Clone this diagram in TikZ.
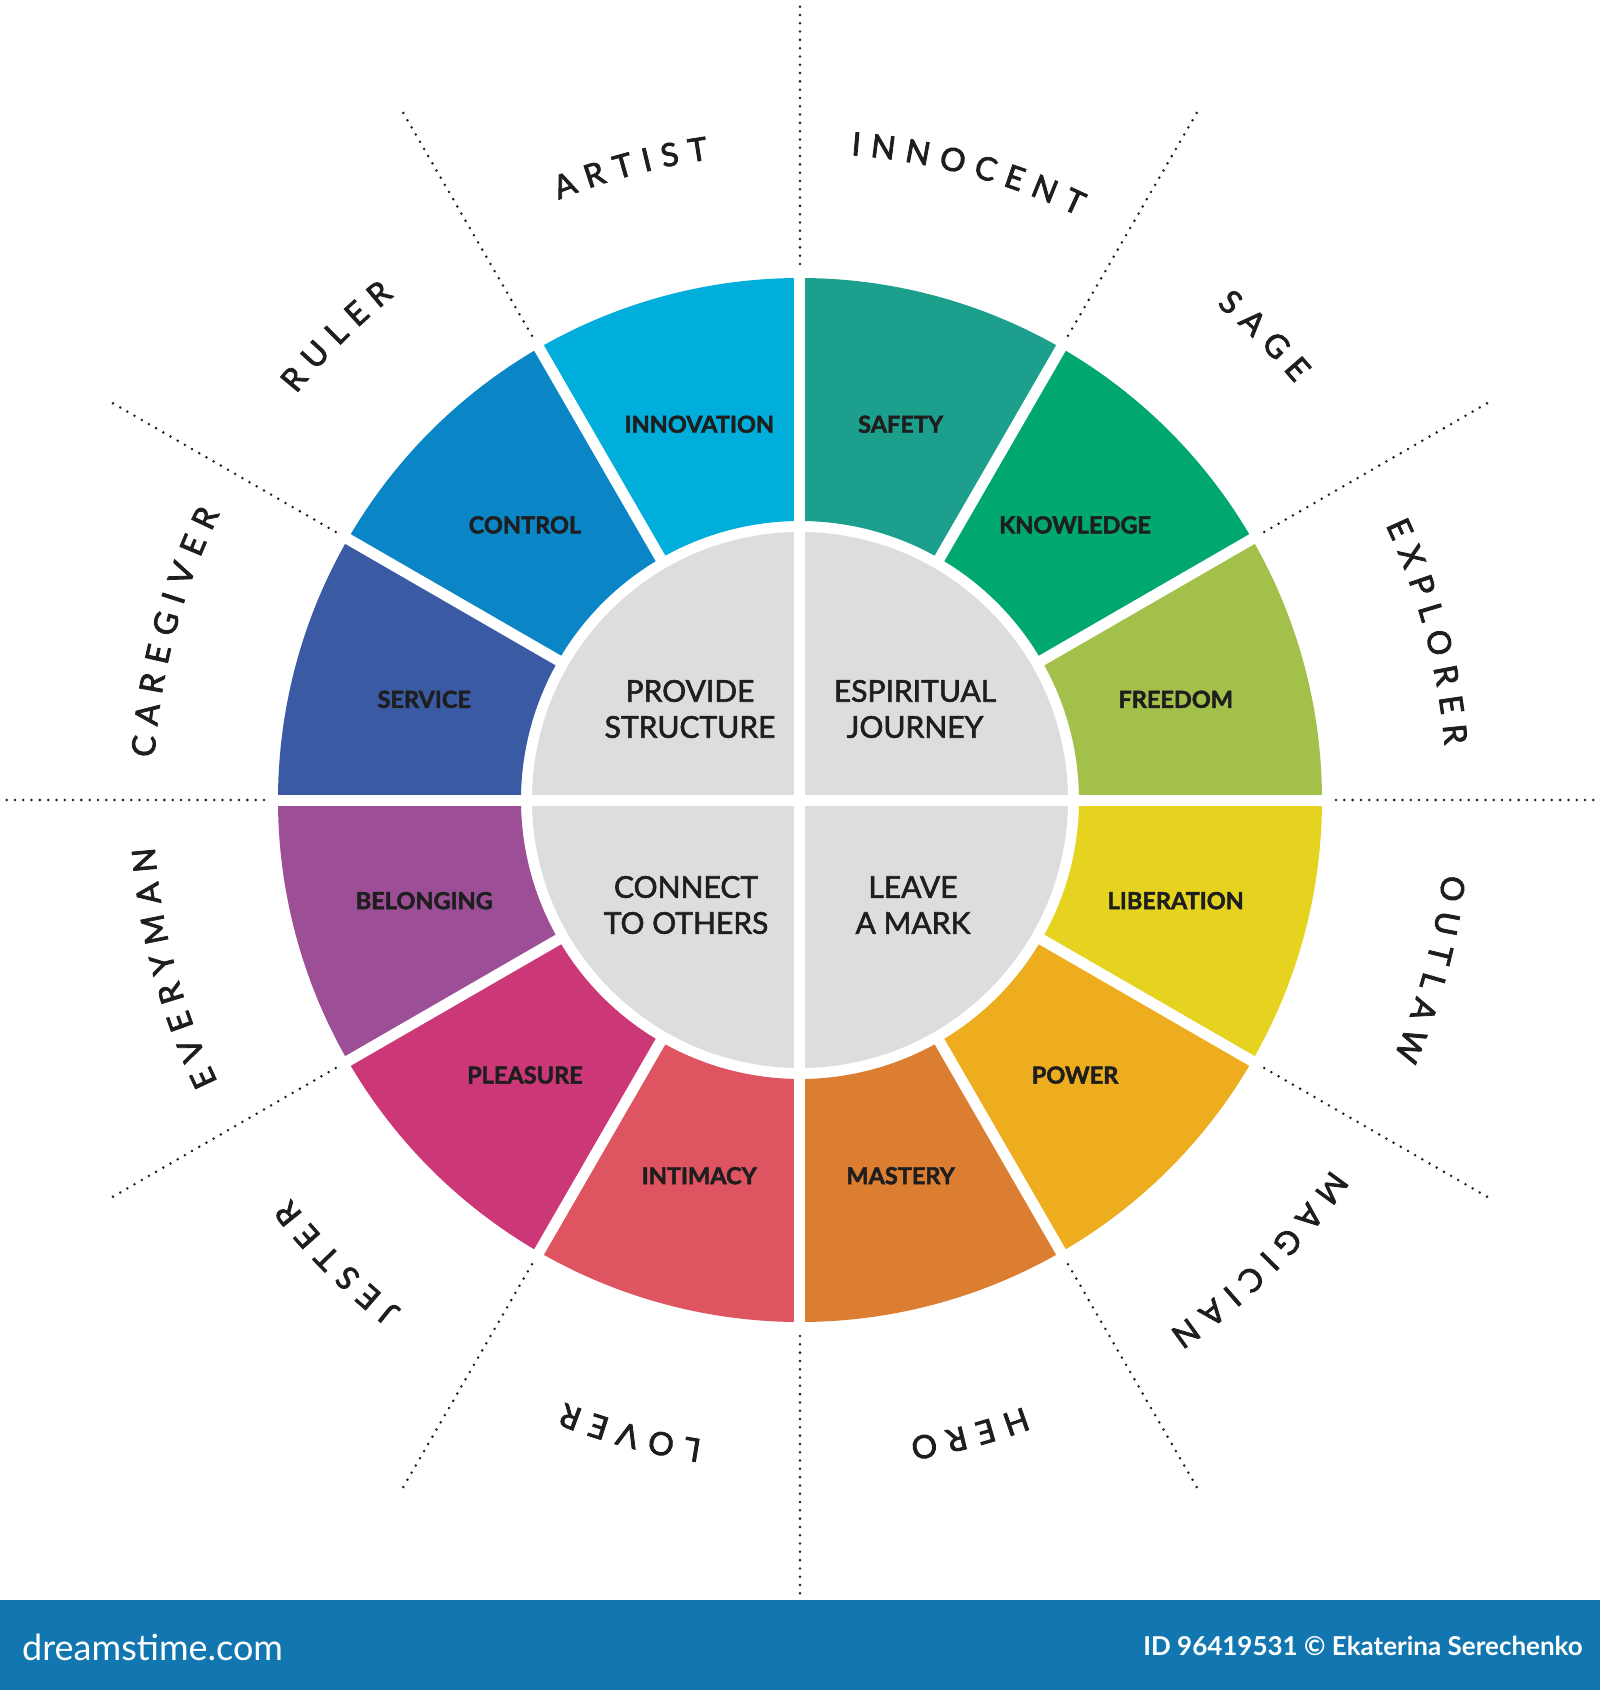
\documentclass[tikz,border=0pt]{standalone}
\usepackage{fontspec}
\setmainfont{Lato}
\usetikzlibrary{decorations.text}
\definecolor{inkc}{HTML}{1E1E1E}
\definecolor{cSafety}{HTML}{1CA08D}
\definecolor{cKnow}{HTML}{00A86F}
\definecolor{cFree}{HTML}{A3C04A}
\definecolor{cLib}{HTML}{E6D31F}
\definecolor{cPower}{HTML}{EDAD1F}
\definecolor{cMast}{HTML}{DC7E31}
\definecolor{cInti}{HTML}{DE5460}
\definecolor{cPlea}{HTML}{CC3877}
\definecolor{cBelo}{HTML}{9C4F96}
\definecolor{cServ}{HTML}{3A5BA3}
\definecolor{cCont}{HTML}{0A86C7}
\definecolor{cInno}{HTML}{00AEDB}
\definecolor{cGray}{HTML}{DCDDDF}
\definecolor{bannerc}{HTML}{1277B0}
\newcommand\archfontsize{\fontsize{32}{32}\selectfont\addfontfeature{FakeBold=2.5}}
\begin{document}
\begin{tikzpicture}[
  seglabel/.style={font=\fontsize{23.5}{23.5}\selectfont\bfseries\addfontfeature{FakeBold=2}, text=inkc, inner sep=0pt},
  centerlabel/.style={font=\fontsize{30}{36}\selectfont\addfontfeature{FakeBold=2}, text=inkc, align=center, inner sep=0pt},
  gapline/.style={white, line width=11pt},
  dotline/.style={inkc, line width=2.8pt, dash pattern=on 0pt off 8.3pt, line cap=round},
  archlabel/.style={
    decoration={text effects along path, text/.expanded=#1, text align=center,
      text effects/.cd,
        text along path,
        character widths={font=\archfontsize, inner xsep=5pt},
        characters={font=\archfontsize, text=inkc, inner sep=0pt}},
    decorate}
]
\useasboundingbox (-800pt,-890pt) rectangle (800pt,800pt);
\fill[white] (-800pt,-890pt) rectangle (800pt,800pt);

% inner grey disk
\fill[cGray] (0,0) circle[radius=268pt];

% coloured ring segments with labels
\foreach \col/\name [count=\i from 0] in {cSafety/SAFETY, cKnow/KNOWLEDGE, cFree/FREEDOM, cLib/LIBERATION, cPower/POWER, cMast/MASTERY, cInti/INTIMACY, cPlea/PLEASURE, cBelo/BELONGING, cServ/SERVICE, cCont/CONTROL, cInno/INNOVATION} {
  \pgfmathsetmacro\s{90-30*\i}
  \pgfmathsetmacro\e{60-30*\i}
  \pgfmathsetmacro\m{75-30*\i}
  \fill[\col] (\s:279pt) arc[start angle=\s, end angle=\e, radius=279pt]
     -- (\e:522pt) arc[start angle=\e, end angle=\s, radius=522pt] -- cycle;
  \node[seglabel] (seg\i) at (\m:389pt) {\name};
}

% white gaps
\foreach \a in {0,90,180,270}
  \draw[gapline] (0,0) -- (\a:527pt);
\foreach \a in {30,60,120,150,210,240,300,330}
  \draw[gapline] (\a:273pt) -- (\a:527pt);

% dotted radial lines
\foreach \a in {0,30,...,330}
  \draw[dotline] (\a:536pt) -- (\a:800pt);

% centre labels
\node[centerlabel] (provide) at (-110pt,91pt) {PROVIDE\\STRUCTURE};
\node[centerlabel] (journey) at (115pt,91pt) {ESPIRITUAL\\JOURNEY};
\node[centerlabel] (connect) at (-114pt,-105pt) {CONNECT\\TO OTHERS};
\node[centerlabel] (mark) at (113pt,-105pt) {LEAVE\\A MARK};

% archetype labels along the circle
\foreach \a/\t in {75/INNOCENT, 45/SAGE, 15/EXPLORER, -15/OUTLAW, -45/MAGICIAN, -75/HERO, -105/LOVER, -135/JESTER, -165/EVERYMAN, 165/CAREGIVER, 135/RULER, 105/ARTIST} {
  \pgfmathsetmacro\sa{\a+25}
  \pgfmathsetmacro\ea{\a-25}
  \path[archlabel=\t] (\sa:647pt) arc[start angle=\sa, end angle=\ea, radius=647pt];
}

% banner
\fill[bannerc] (-800pt,-890pt) rectangle (800pt,-800pt);
\node[font=\fontsize{36}{36}\selectfont, text=white, anchor=west, inner sep=0pt] (brand) at (-778pt,-847pt) {dreamstime.com};
\node[font=\fontsize{26}{26}\selectfont\bfseries, text=white, anchor=east, inner sep=0pt] (credit) at (783pt,-846pt) {ID 96419531 © Ekaterina Serechenko};
\end{tikzpicture}
\end{document}
